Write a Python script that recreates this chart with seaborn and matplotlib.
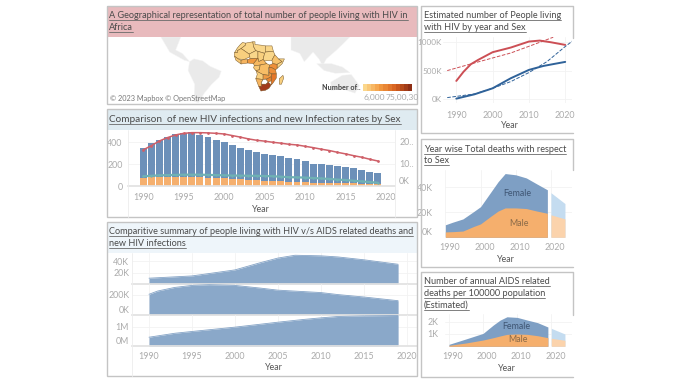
import matplotlib
matplotlib.use("Agg")
import matplotlib.pyplot as plt
from matplotlib.patches import Polygon, Rectangle
from matplotlib.transforms import ScaledTranslation
import seaborn as sns

# panel 2 - new infections (K) by sex + rates
years = list(range(1990, 2020))
bars_total = [348, 390, 424, 451, 476, 488, 491, 470, 451, 424, 400, 372, 348, 327, 308,
              296, 287, 278, 256, 244, 226, 207, 201, 195, 186, 177, 165, 150, 131, 125]
bars_male = [75, 82, 85, 85, 88, 88, 85, 82, 80, 76, 72, 66, 62, 58, 55,
             50, 48, 46, 42, 40, 37, 34, 33, 31, 29, 28, 26, 24, 21, 18]
rate_red = [16300, 18200, 20300, 21800, 23000, 23700, 24000, 24000, 23900, 23700, 23400, 22700,
            22000, 21200, 20600, 20200, 19700, 19300, 18800, 18500, 17900, 17300, 16600, 16000,
            15200, 14500, 13700, 13000, 12100, 11300]
rate_teal = [4500, 4700, 4900, 5000, 5100, 5200, 5200, 5200, 5100, 5000, 4900, 4800, 4800, 4700,
             4700, 4600, 4500, 4300, 4100, 4000, 3900, 3700, 3500, 3300, 3000, 2800, 2500, 2200,
             1900, 1600]

# panel 3 - three stacked areas
deaths_years = [1990, 1995, 2000, 2003, 2005, 2007, 2010, 2012, 2015, 2019]
deaths_vals = [10300, 14300, 25000, 38000, 46000, 51000, 50000, 48000, 43000, 35000]
new_years = [1990, 1991, 1993, 1995, 1997, 2000, 2003, 2005, 2010, 2012, 2015, 2019]
new_vals = [203000, 235000, 271000, 291000, 298000, 291000, 264000, 244000, 220000, 200000, 176000, 139000]
living_years = [1990, 1993, 1995, 2000, 2005, 2008, 2010, 2012, 2015, 2019]
living_vals = [460000, 660000, 750000, 970000, 1220000, 1360000, 1440000, 1510000, 1540000, 1560000]

# panel 4 - living with HIV by sex, with trend lines
red_years = [1990, 1992, 1994, 1996, 2000, 2005, 2010, 2013, 2016, 2020]
red_vals = [318, 480, 612, 688, 824, 906, 1012, 1029, 1000, 953]
red_trend_years = [1987.5, 1995, 2005, 2012, 2016.7]
red_trend_vals = [500, 635, 810, 975, 1088]
blue_years = [1990, 1995, 2000, 2005, 2010, 2014, 2017, 2020]
blue_vals = [6, 82, 188, 365, 512, 582, 618, 653]
blue_trend_years = [1987.5, 1995, 2000, 2005, 2010, 2015, 2020, 2023]
blue_trend_vals = [24, 88, 188, 306, 465, 659, 924, 1070]

# panel 5 - total deaths
p5_years = [1990, 1992, 1995, 1998, 2000, 2003, 2005, 2007, 2010, 2013, 2016, 2019]
p5_male = [4300, 4500, 5000, 8600, 10700, 17000, 21000, 23500, 23500, 23000, 21000, 19200]
p5_total = [10000, 12000, 14700, 20500, 24500, 36500, 44500, 51000, 50000, 47500, 42700, 38000]
p5_fc_years = [2020, 2024]
p5_fc_male = [18000, 14700]
p5_fc_total = [35700, 27000]

# panel 6 - deaths per 100000
p6_years = [1990, 1995, 2000, 2003, 2005, 2007, 2010, 2013, 2016, 2019]
p6_male = [80, 270, 510, 700, 840, 970, 1000, 970, 860, 700]
p6_total = [160, 600, 1050, 1730, 2130, 2400, 2350, 2130, 1920, 1570]
p6_fc_years = [2020, 2024]
p6_fc_male = [650, 490]
p6_fc_total = [1460, 1000]

# map shapes, lon/lat
land_shapes = [
    [(-78, 8), (-72, 12), (-60, 9), (-50, 1), (-35, -6), (-38, -15), (-48, -25), (-58, -38), (-66, -52), (-72, -50), (-71, -25), (-80, -5)],
    [(-117, 44), (-90, 44), (-97, 25), (-88, 20), (-78, 8), (-85, 10), (-105, 22)],
    [(60, 44), (140, 44), (122, 25), (108, 12), (103, 2), (98, 12), (90, 22), (78, 8), (72, 20), (60, 25)],
    [(95, 5), (105, -5), (120, -9), (140, -8), (130, 0), (115, 5)],
    [(114, -22), (130, -12), (142, -11), (153, -27), (147, -38), (130, -32), (115, -34)],
]
countries = [
    ([(-17, 21), (-13, 28), (-9, 33), (-6, 36), (-2, 35), (-2, 32), (-8, 27), (-13, 24), (-13, 21)], "#F9D68A"),
    ([(-2, 35), (8, 37), (9, 30), (12, 24), (3, 19), (-5, 25), (-8, 27), (-2, 32)], "#F9D68A"),
    ([(8, 37), (11, 37), (11, 33), (20, 32), (25, 31), (25, 20), (15, 23), (12, 24), (9, 30)], "#F9D68A"),
    ([(25, 31), (34, 31), (36, 23), (25, 22)], "#F9D68A"),
    ([(-17, 16), (-17, 21), (-13, 21), (-13, 24), (-8, 27), (-5, 25), (3, 19), (4, 15), (-4, 11), (-12, 12)], "#F8CF7E"),
    ([(3, 19), (12, 24), (15, 23), (15, 13), (4, 12), (4, 15)], "#F9D68A"),
    ([(15, 23), (24, 20), (22, 11), (16, 8), (15, 13)], "#F8CF7E"),
    ([(24, 20), (25, 22), (36, 23), (38, 18), (34, 10), (24, 9), (22, 11)], "#F9D68A"),
    ([(-17, 16), (-12, 12), (-8, 10), (-8, 4.5), (-15, 10)], "#F8C874"),
    ([(-8, 10), (-4, 11), (1, 11), (1, 6), (-8, 4.5)], "#F6B45F"),
    ([(1, 11), (4, 12), (15, 13), (9, 5), (1, 6)], "#F0983F"),
    ([(9, 5), (15, 13), (16, 8), (22, 11), (27, 5), (18, 3), (10, 2)], "#F6B860"),
    ([(34, 10), (38, 18), (43, 12), (48, 8), (41, 4), (35, 5)], "#F7C26C"),
    ([(43, 12), (51, 12), (48, 5), (41, -2), (41, 4), (48, 8)], "#F9D68A"),
    ([(10, 2), (18, 3), (17, -4), (12, -5), (9, -1)], "#F8C874"),
    ([(18, 3), (27, 5), (31, 3), (29, -4), (30, -12), (22, -11), (13, -6), (12, -5), (17, -4)], "#F7BD66"),
    ([(31, 3), (35, 5), (41, 4), (41, -2), (39, -4), (34, -1), (30, -1)], "#EE8F3A"),
    ([(30, -1), (34, -1), (39, -4), (40, -10), (34, -10), (30, -8)], "#EE8F3A"),
    ([(13, -6), (22, -11), (22, -18), (12, -17), (14, -11)], "#F8CF7E"),
    ([(22, -11), (30, -12), (30, -8), (34, -10), (33, -14), (28, -17), (22, -18)], "#EF9A44"),
    ([(34, -10), (40, -10), (40, -16), (35, -24), (33, -26), (33, -20), (33, -14)], "#E5772A"),
    ([(28, -17), (33, -14), (33, -20), (29, -22), (26, -18)], "#E98431"),
    ([(12, -17), (22, -18), (20, -22), (20, -28), (16, -28)], "#F6B45F"),
    ([(22, -18), (26, -18), (29, -22), (26, -25), (20, -25), (20, -22)], "#FFFFFF"),
    ([(16, -28), (20, -28), (20, -25), (26, -25), (29, -22), (33, -26), (30, -31), (25, -34), (19, -35)], "#A23A1C"),
    ([(49, -12), (50, -16), (47, -25), (44, -25), (44, -17)], "#F8CF7E"),
]

legend_steps = [0, 1, 2, 3, 4, 5, 6, 7, 8, 9, 10, 11]
legend_cmap = sns.blend_palette(["#FBD78C", "#F39C42", "#D7601F", "#8E2F15"], as_cmap=True)

sns.set_theme(style="white")
plt.rcParams["font.family"] = "Lato"

W, H = 680, 383
fig = plt.figure(figsize=(W / 100, H / 100), dpi=100)

BAR_BLUE = "#6C90B9"
ORANGE = "#F5AF6D"
TICK = "#ABABAB"
TXT = "#555555"
EDGE = "#C4C4C4"

# overlay in pixel coords for frames, titles and free text
bg = fig.add_axes([0, 0, 1, 1], zorder=10)
bg.set_xlim(0, W)
bg.set_ylim(H, 0)
bg.axis("off")


def px_axes(left, top, right, bottom):
    ax = fig.add_axes([left / W, 1 - bottom / H, (right - left) / W, (bottom - top) / H])
    ax.patch.set_alpha(0)
    sns.despine(ax=ax, left=True, bottom=True)
    ax.tick_params(length=0, labelsize=6.4, labelcolor=TICK, pad=2)
    ax.set_xlabel("")
    ax.set_ylabel("")
    ax.grid(True, color="#F2F2F2", lw=0.6)
    ax.set_axisbelow(True)
    return ax


def title(lines, x, y, step=11.7, size=6.55):
    r = fig.canvas.get_renderer()
    for i, line in enumerate(lines):
        t = bg.text(x, y + i * step, line, fontsize=size, color="#4A4A4A", va="center", ha="left")
        e = t.get_window_extent(r)
        bg.plot([e.x0, e.x1], [y + i * step + 4.5, y + i * step + 4.5], color="#6A6A6A", lw=0.6)


def nudge_x(ax, dx):
    off = ScaledTranslation(dx / 100, 0, fig.dpi_scale_trans)
    for lab in ax.get_xticklabels():
        lab.set_transform(lab.get_transform() + off)


def year_label(x, y):
    bg.text(x, y, "Year", fontsize=6.4, color=TXT, ha="center", va="center")


def frame(x0, y0, x1, y1):
    bg.add_patch(Rectangle((x0, y0), x1 - x0, y1 - y0, fill=False, ec=EDGE, lw=1.0))


def open_frame(x0, y0, x1, y1, right_end):
    # right column panels: the right edge stops just under the title
    bg.plot([x1, x1, x0, x0, x1], [right_end, y0, y0, y1, y1], color=EDGE, lw=1.0)


# title bands sit under the plots, frames on top
fig.add_artist(Rectangle((107 / W, 1 - 37 / H), 310 / W, 31 / H, color="#E8BABD", lw=0, zorder=-1))
fig.add_artist(Rectangle((107 / W, 1 - 130 / H), 310 / W, 21 / H, color="#DFEBF1", lw=0, zorder=-1))
fig.add_artist(Rectangle((107 / W, 1 - 253 / H), 310 / W, 31 / H, color="#EEF5FA", lw=0, zorder=-1))
frame(107, 6, 417, 104)
frame(107, 109, 417, 217)
frame(107, 222, 417, 376)
open_frame(421, 6, 573, 133, 38)
open_frame(421, 139, 573, 267, 170)
open_frame(421, 272, 573, 377, 315)
bg.plot([128, 128], [130, 217], color="#EDEDED", lw=0.6)
bg.plot([395, 395], [130, 217], color="#EDEDED", lw=0.6)
bg.plot([132, 132], [253, 376], color="#EDEDED", lw=0.6)

title(["A Geographical representation of total number of people living with HIV in", "Africa"], 109, 15.7)
title(["Comparison  of new HIV infections and new Infection rates by Sex"], 109, 119, size=7.2)
title(["Comparitive summary of people living with HIV v/s AIDS related deaths and", "new HIV infections"], 109, 231.7)
title(["Estimated number of People living", "with HIV by year and Sex"], 424, 15.7)
title(["Year wise Total deaths with respect", "to Sex"], 424, 149)
title(["Number of annual AIDS related", "deaths per 100000 population", "(Estimated)"], 424, 281.7)

# map
m = px_axes(108, 37, 416, 103)
m.grid(False)
m.set_xlim(-189, 230)
m.set_ylim(-52.5, 44)
m.set_xticks([])
m.set_yticks([])
for shape in land_shapes:
    m.add_patch(Polygon(shape, fc="#EAEAEA", ec="#F4F4F4", lw=0.3))
for shape, col in countries:
    m.add_patch(Polygon(shape, fc=col, ec="#7A5A2A", lw=0.35))
bg.text(110, 98, "© 2023 Mapbox © OpenStreetMap", fontsize=5.3, color="#777777", va="center")
bg.text(361, 87.5, "Number of..", fontsize=5.2, color="#444444", va="center", ha="right", fontweight="bold")
lg = fig.add_axes([363 / W, 1 - 91 / H, 49 / W, 7 / H])
sns.heatmap([legend_steps], ax=lg, cmap=legend_cmap, cbar=False, xticklabels=False, yticklabels=False)
bg.text(363, 97, "6,000", fontsize=6.1, color=TICK, va="center")
t = bg.text(386, 97, "75,00,30", fontsize=6.1, color=TICK, va="center")
t.set_clip_path(Rectangle((0, 0), 415, H, transform=bg.transData))

# new infections
ax2 = px_axes(128, 130, 395, 186.3)
sns.barplot(x=years, y=bars_total, color=BAR_BLUE, saturation=1, native_scale=True, width=0.86, linewidth=0, ax=ax2)
sns.barplot(x=years, y=bars_male, color=ORANGE, saturation=1, native_scale=True, width=0.86, linewidth=0, ax=ax2)
ax2.set_xlim(1988.11, 2021.11)
ax2.set_ylim(0, 512)
ax2.set_yticks([0, 200, 400])
ax2.set_xticks([1990, 1995, 2000, 2005, 2010, 2015, 2020])
ax2.spines["bottom"].set_visible(True)
ax2.spines["bottom"].set_color("#E2E2E2")
ax2.tick_params(axis="x", pad=5)
ax2.tick_params(axis="y", pad=4)
ax2.grid(False, axis="x")
ax2r = ax2.twinx()
ax2r.patch.set_alpha(0)
sns.despine(ax=ax2r, left=True, bottom=True, right=True)
sns.lineplot(x=years, y=rate_red, color="#CF5F68", lw=1.1, marker="o", ms=2, mew=0, ax=ax2r)
sns.lineplot(x=years, y=rate_teal, color="#6FB1B4", lw=1.6, marker="o", ms=1.8, mew=0, ax=ax2r)
ax2r.set_ylim(0, 25190)
ax2r.set_yticks([0, 10000, 20000], ["0K", "10..", "20.."])
ax2r.set_ylabel("")
ax2r.grid(False)
ax2r.tick_params(length=0, labelsize=6.4, labelcolor=TICK, pad=3)
ax2r.get_yticklabels()[0].set_va("bottom")
year_label(261, 209)

# comparative summary - three rows
rows = [
    (253, 284, deaths_years, deaths_vals, 55000, [20000, 40000], ["20K", "40K"]),
    (284, 314.7, new_years, new_vals, 305000, [0, 200000], ["0K", "200K"]),
    (314.7, 346.3, living_years, living_vals, 1600000, [0, 1000000], ["0M", "1M"]),
]
for top, bottom, xs, ys, ymax, ticks, labels in rows:
    a = px_axes(132, top, 417, bottom)
    a.fill_between(xs, ys, color="#8AA8C9", lw=0)
    sns.lineplot(x=xs, y=ys, color="#84A3C6", lw=0.6, ax=a)
    a.set_xlim(1990 - 17 / 8.59, 1990 + 268 / 8.59)
    a.set_ylim(0, ymax)
    a.set_yticks(ticks, labels)
    a.set_xticks([1990, 1995, 2000, 2005, 2010, 2015, 2020])
    a.spines["bottom"].set_visible(True)
    a.spines["bottom"].set_color("#E2E2E2")
    if bottom == 346.3:
        a.tick_params(axis="x", pad=4)
    else:
        a.tick_params(axis="x", labelbottom=False)
    if ticks[0] == 0:
        a.get_yticklabels()[0].set_va("bottom")
year_label(274, 368)

# living with HIV by sex
ax4 = px_axes(443, 37, 572, 103)
sns.lineplot(x=red_years, y=red_vals, color="#CC4F55", lw=1.4, ax=ax4)
sns.lineplot(x=red_trend_years, y=red_trend_vals, color="#CC4F55", lw=0.7, ls="--", ax=ax4)
sns.lineplot(x=blue_years, y=blue_vals, color="#2F6299", lw=1.4, ax=ax4)
sns.lineplot(x=blue_trend_years, y=blue_trend_vals, color="#2F6299", lw=0.7, ls="--", ax=ax4)
ax4.set_xlim(1990 - 13.3 / 3.63, 1990 + 115.7 / 3.63)
ax4.set_ylim(-71, 1092)
ax4.set_yticks([0, 500, 1000], ["0K", "500K", "1000K"])
ax4.set_xticks([1990, 2000, 2010, 2020])
ax4.tick_params(axis="x", pad=6)
ax4.tick_params(axis="y", pad=1, labelsize=5.9)
year_label(510, 126)


def sex_area(ax, xs, male, total, fc_xs, fc_male, fc_total):
    ax.fill_between(xs, total, color="#7E9FC4", lw=0)
    ax.fill_between(xs, male, color=ORANGE, lw=0)
    ax.fill_between(fc_xs, fc_total, color="#C4DCF0", lw=0)
    ax.fill_between(fc_xs, fc_male, color="#FBD3AC", lw=0)
    ax.set_xticks([1990, 2000, 2010, 2020])
    ax.tick_params(axis="x", pad=4)


# total deaths
ax5 = px_axes(445, 170, 572, 237.3)
sex_area(ax5, p5_years, p5_male, p5_total, p5_fc_years, p5_fc_male, p5_fc_total)
ax5.set_xlim(1989.9, 2026)
ax5.set_ylim(0, 53840)
ax5.set_yticks([0, 20000, 40000], ["0K", "20K", "40K"])
ax5.get_yticklabels()[0].set_va("bottom")
ax5.tick_params(axis="y", pad=9)
nudge_x(ax5, 4)
bg.text(517, 194, "Female", fontsize=6.4, color="#3F5573", ha="center", va="center")
bg.text(519.5, 223.5, "Male", fontsize=6.4, color="#8A6A48", ha="center", va="center")
year_label(505.5, 259.5)

# annual deaths per 100000
ax6 = px_axes(445, 314, 572, 346.3)
sex_area(ax6, p6_years, p6_male, p6_total, p6_fc_years, p6_fc_male, p6_fc_total)
ax6.set_xlim(1988.83, 2026.07)
ax6.set_ylim(0, 2626)
ax6.set_yticks([1000, 2000], ["1K", "2K"])
ax6.tick_params(axis="y", pad=5)
nudge_x(ax6, 4)
bg.text(516, 326.5, "Female", fontsize=6.4, color="#3F5573", ha="center", va="center")
bg.text(518, 340, "Male", fontsize=6.4, color="#8A6A48", ha="center", va="center")
year_label(507, 368.5)

fig.savefig("out.png", dpi=100)
